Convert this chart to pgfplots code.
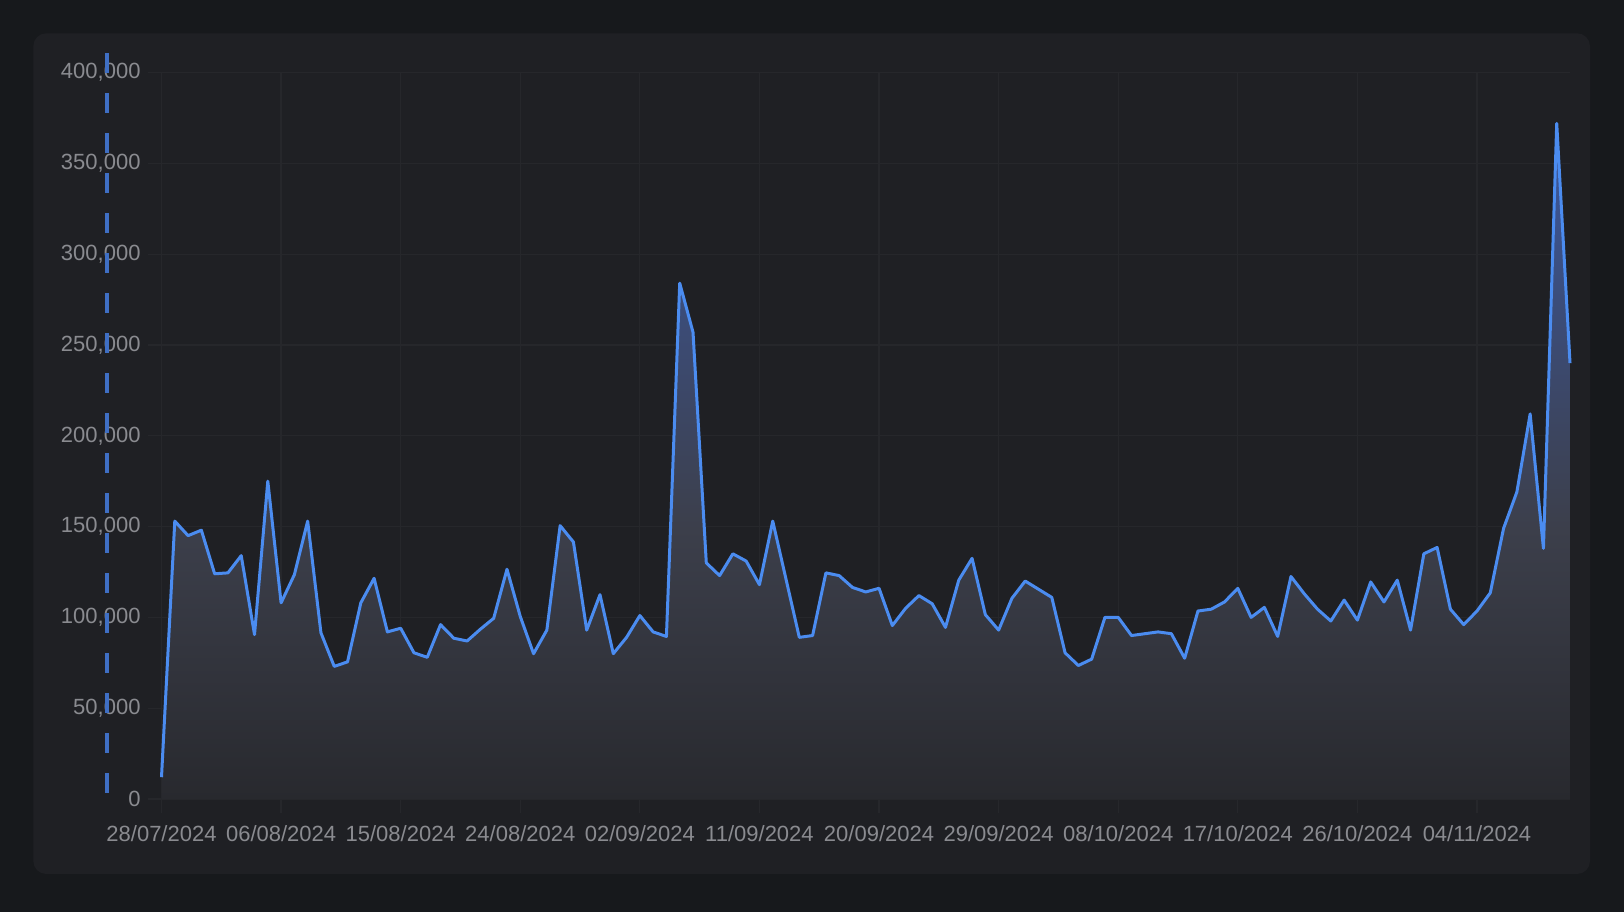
\documentclass[border=0pt]{standalone}
\usepackage{fontspec}
\setmainfont{Liberation Sans}
\usepackage{pgfplots}
\pgfplotsset{compat=1.18}
\usepackage{pgfplotstable}
\definecolor{outerbg}{HTML}{17191C}
\definecolor{panelbg}{HTML}{1F2024}
\definecolor{gridc}{HTML}{26272B}
\definecolor{tickc}{HTML}{8A8B90}
\definecolor{linec}{HTML}{4B8CF0}
\definecolor{dashc}{HTML}{3F6FC4}
\definecolor{fillA}{HTML}{28292E}
\definecolor{fillB}{HTML}{3C3F4B}
\definecolor{fillC}{HTML}{3B58A0}
\pgfdeclareverticalshading{areafill}{100bp}{color(0bp)=(fillA); color(25bp)=(fillA); color(45bp)=(fillB); color(75bp)=(fillC); color(100bp)=(fillC)}
\pgfplotstableread{
d v
0 12000
1 153000
2 145000
3 148000
4 124000
5 124500
6 134000
7 90500
8 175000
9 108000
10 123500
11 153000
12 91500
13 73000
14 75500
15 108000
16 121500
17 92000
18 94000
19 80500
20 78000
21 96000
22 88500
23 87000
24 93500
25 99500
26 126500
27 100500
28 80000
29 93000
30 150500
31 141500
32 93000
33 112500
34 80000
35 89000
36 101000
37 92000
38 89500
39 284000
40 257000
41 130000
42 123000
43 135000
44 131000
45 118000
46 153000
47 121000
48 89000
49 90000
50 124500
51 123000
52 116500
53 114000
54 116000
55 95500
56 105000
57 112000
58 107500
59 94500
60 120500
61 132500
62 101500
63 93000
64 110500
65 120000
66 115500
67 111000
68 80500
69 73500
70 77000
71 100000
72 100000
73 90000
74 91000
75 92000
76 91000
77 77500
78 103500
79 104500
80 108500
81 116000
82 100000
83 105500
84 89500
85 122500
86 113000
87 104500
88 98000
89 109500
90 98500
91 119500
92 108500
93 120500
94 93000
95 135000
96 138500
97 104500
98 96000
99 103500
100 113500
101 149000
102 169000
103 212000
104 138000
105 372000
106 240000
}\datatab
\begin{document}
\begin{tikzpicture}
\path[use as bounding box, fill=outerbg] (0,0) rectangle (812bp,456bp);
\fill[panelbg, rounded corners=6.5bp] (16.65bp,19bp) rectangle (795bp,439.35bp);
\begin{axis}[
  at={(80.75bp,56.5bp)}, anchor=south west,
  scale only axis, width=704.25bp, height=363.25bp,
  xmin=0, xmax=106, ymin=0, ymax=400000,
  axis line style={draw=none},
  xtick={0,9,...,99},
  xticklabels={28/07/2024,06/08/2024,15/08/2024,24/08/2024,02/09/2024,11/09/2024,20/09/2024,29/09/2024,08/10/2024,17/10/2024,26/10/2024,04/11/2024},
  ytick={0,50000,100000,150000,200000,250000,300000,350000,400000},
  yticklabels={0,{50,000},{100,000},{150,000},{200,000},{250,000},{300,000},{350,000},{400,000}},
  scaled y ticks=false,
  xtick pos=bottom, ytick pos=left,
  grid=major, major grid style={draw=gridc, line width=0.6bp},
  tick align=outside, major tick length=7bp,
  tick style={draw=gridc, line width=0.6bp},
  ticklabel style={font=\fontsize{11bp}{13bp}\selectfont, text=tickc},
  xticklabel style={anchor=north, inner sep=0pt, yshift=-6.3bp},
  yticklabel style={anchor=east, inner sep=0pt, xshift=-3.3bp},
  clip=false,
]
\addplot[draw=none, shading=areafill] table[x=d, y=v] {\datatab} \closedcycle;
\addplot[linec, line width=1.5bp, line join=round, mark=none] table[x=d, y=v] {\datatab};
\draw[dashc, line width=1.6bp, dash pattern=on 10bp off 10bp] (axis cs:-4.1,410700) -- (axis cs:-4.1,3300);
\end{axis}
\end{tikzpicture}
\end{document}
